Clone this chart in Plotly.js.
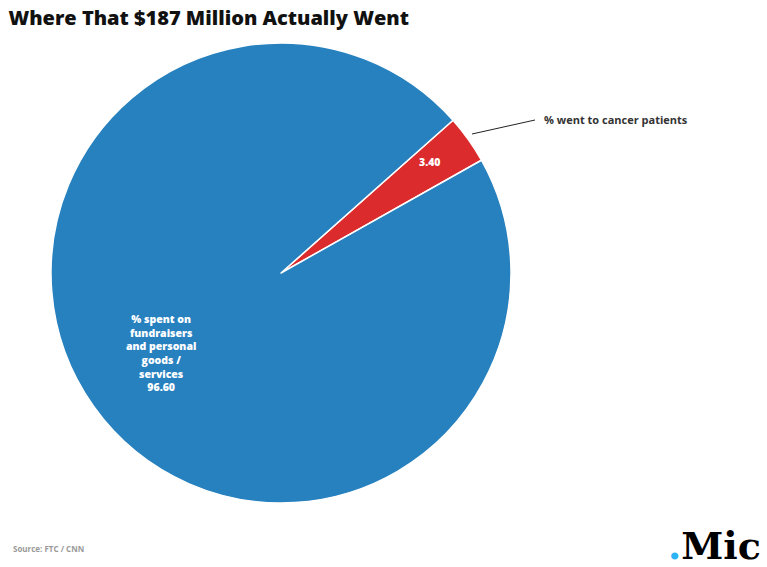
<!DOCTYPE html>
<html>
<head>
<meta charset="utf-8">
<script src="https://cdn.plot.ly/plotly-3.0.1.min.js"></script>
<style>html,body{margin:0;padding:0;background:#fff}#chart{width:767px;height:567px}</style>
</head>
<body>
<div id="chart"></div>
<script>
var labels = ["% went to cancer patients", "% spent on fundraisers and personal goods / services"];
var values = [3.40, 96.60];
var sliceText = ["3.40", "% spent on<br>fundraisers<br>and personal<br>goods /<br>services<br>96.60"];
var colors = ["#dc2b2c", "#2781bf"];

var W = 767, H = 567;
function px(x){return x/W;}
function py(y){return 1 - y/H;}

var trace = {
  type: "pie",
  labels: labels,
  values: values,
  textinfo: "none",
  sort: false,
  direction: "clockwise",
  rotation: 48.4,
  marker: {colors: colors, line: {color: "#ffffff", width: 1.5}},
  domain: {x: [px(51), px(511)], y: [py(503), py(43)]},
  showlegend: false,
  hoverinfo: "label+value"
};

var labelFont = {family: "Open Sans, sans-serif", size: 10.5, color: "#ffffff", weight: 800};

var layout = {
  width: W, height: H,
  margin: {l: 0, r: 0, t: 0, b: 0},
  paper_bgcolor: "#ffffff",
  showlegend: false,
  title: {text: "Where That $187 Million Actually Went", x: 0.011, xanchor: "left", y: 1 - 18/H, yanchor: "middle",
          font: {family: "Open Sans, sans-serif", size: 20, color: "#111111", weight: 800}},
  shapes: [{type: "line", xref: "paper", yref: "paper", x0: px(472), y0: py(134), x1: px(535), y1: py(120),
            line: {color: "#222222", width: 1}}],
  annotations: [
    {text: sliceText[0], xref: "paper", yref: "paper", x: px(430), y: py(162), xanchor: "center", yanchor: "middle",
     showarrow: false, font: labelFont},
    {text: sliceText[1], xref: "paper", yref: "paper", x: px(160.5), y: py(353), xanchor: "center", yanchor: "middle",
     showarrow: false, font: labelFont},
    {text: labels[0], xref: "paper", yref: "paper", x: px(542), y: py(119), xanchor: "left", yanchor: "middle",
     showarrow: false, font: {family: "Open Sans, sans-serif", size: 11, color: "#333333", weight: 700}},
    {text: "Source: FTC / CNN", xref: "paper", yref: "paper", x: px(11), y: py(548), xanchor: "left", yanchor: "middle",
     showarrow: false, font: {family: "Open Sans, sans-serif", size: 8, color: "#9a9a9a", weight: 700}},
    {text: "<span style='color:#2bb3f3'>.</span>Mic", xref: "paper", yref: "paper", x: px(763), y: py(545), xanchor: "right", yanchor: "middle",
     showarrow: false, font: {family: "DejaVu Serif, serif", size: 38, color: "#000000", weight: 900}}
  ]
};

Plotly.newPlot("chart", [trace], layout, {displayModeBar: false, staticPlot: true});
</script>
</body>
</html>
